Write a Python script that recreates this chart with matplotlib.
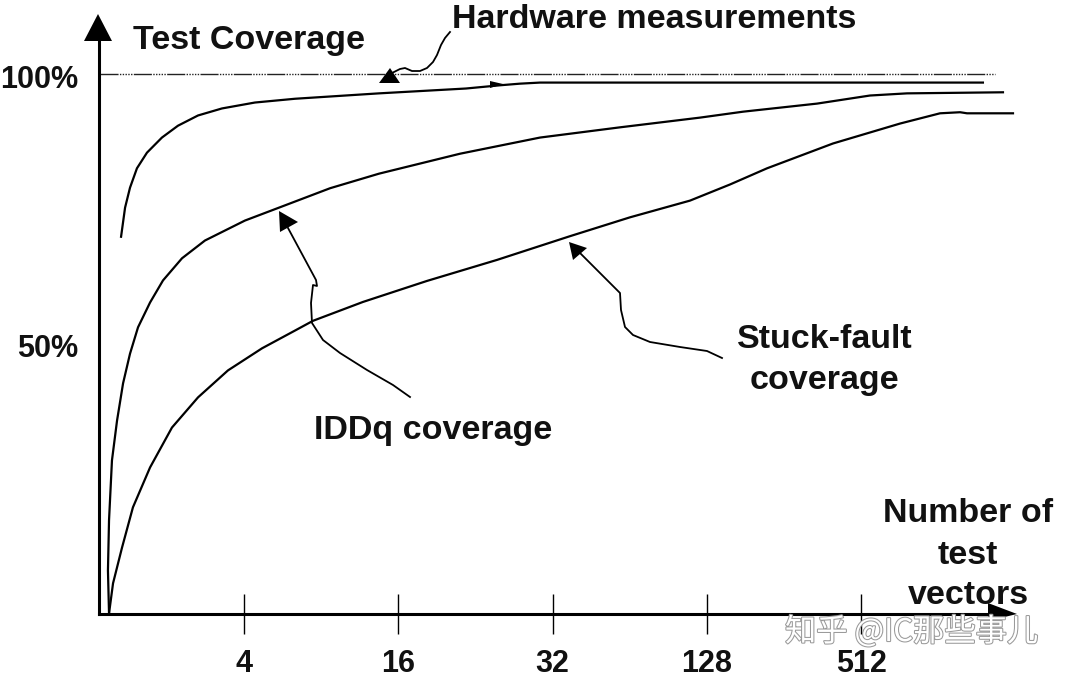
import matplotlib
matplotlib.use("Agg")
import matplotlib.pyplot as plt
import matplotlib.patheffects as pe
from matplotlib.transforms import Affine2D, ScaledTranslation
from matplotlib.patches import Polygon

plt.rcParams['font.family'] = ['Liberation Sans', 'DejaVu Sans']

W, H = 1071, 678

##
# Data, x is the position of the tick (evenly spaced vector counts), y is percent
tick_labels = ['4', '16', '32', '128', '512']
tick_pos = [0, 1, 2, 3, 4]

hw_x = [-0.797, -0.771, -0.739, -0.694, -0.629, -0.532, -0.428, -0.298, -0.143, 0.071, 0.331,
        0.875, 1.439, 1.66, 1.789, 1.919, 4.79]
hw_y = [69.9, 75.3, 79.0, 82.6, 85.5, 88.3, 90.5, 92.4, 93.7, 94.8, 95.5,
        96.5, 97.4, 98.0, 98.3, 98.5, 98.5]

iddq_x = [-0.875, -0.882, -0.875, -0.856, -0.823, -0.784, -0.739, -0.687, -0.609, -0.525, -0.402,
          -0.253, 0.006, 0.227, 0.558, 0.875, 1.40, 1.919, 2.438, 2.956, 3.235, 3.715, 4.058, 4.298, 4.92]
iddq_y = [0, 8.0, 17.3, 28.4, 35.8, 42.7, 48.2, 53.1, 57.7, 61.8, 65.9,
          69.2, 72.9, 75.3, 78.9, 81.6, 85.3, 88.3, 90.2, 92.0, 93.1, 94.6, 96.1, 96.5, 96.7]

stuck_x = [-0.875, -0.849, -0.791, -0.72, -0.609, -0.467, -0.298, -0.104, 0.117, 0.331, 0.447, 0.771,
           1.186, 1.64, 2.113, 2.502, 2.891, 3.151, 3.391, 3.818, 4.253, 4.512, 4.642, 4.687, 4.985]
stuck_y = [0, 5.6, 12.2, 19.7, 27.1, 34.5, 40.1, 45.1, 49.2, 52.5, 54.3, 57.8,
           61.7, 65.6, 70.0, 73.5, 76.6, 79.6, 82.6, 87.2, 90.9, 92.8, 93.0, 92.8, 92.8]

##
# Axes
fig = plt.figure(figsize=(W / 100, H / 100), dpi=100)
ax = fig.add_axes([99 / W, (H - 613.5) / H, 889 / W, 573.5 / H])
ax.set_xlim(-0.94, 4.823)
ax.set_ylim(0, 106.4)

for s in ['top', 'right']:
    ax.spines[s].set_visible(False)
for s in ['left', 'bottom']:
    ax.spines[s].set_linewidth(2.2)

ax.set_xticks(tick_pos)
ax.set_xticklabels(tick_labels, fontsize=22, fontweight='bold', color='#111111')
ax.tick_params(axis='x', direction='inout', length=29.5, width=1.0, pad=11)
ax.set_yticks([50, 100])
ax.set_yticklabels(['50%', '100%'], fontsize=22, fontweight='bold', color='#111111')
ax.tick_params(axis='y', length=0, pad=15)
for lab in ax.get_yticklabels():
    lab.set_transform(lab.get_transform() + ScaledTranslation(0, -2 / 100, fig.dpi_scale_trans))

ax.plot([-0.934, 4.87], [100, 100], color='#222222', lw=1.0, clip_on=False,
        linestyle=(0, (13, 1, 1, 1, 1, 1, 1, 1, 1, 1, 1, 1)))

for xs, ys in [(hw_x, hw_y), (iddq_x, iddq_y), (stuck_x, stuck_y)]:
    ax.plot(xs, ys, color='black', lw=1.6, clip_on=False, solid_joinstyle='round')

##
# Decorations, in image pixels
px = Affine2D().scale(1, -1).translate(0, H)

def triangle(points):
    fig.add_artist(Polygon(points, closed=True, color='black', lw=0, transform=px))

def leader(points, lw=1.3):
    xs = [p[0] for p in points]
    ys = [p[1] for p in points]
    fig.add_artist(plt.Line2D(xs, ys, color='black', lw=lw, transform=px, solid_joinstyle='round'))

def label(x, y, s, size=24.5, ha='left'):
    fig.text(x, y + 3, s, transform=px, fontsize=size, fontweight='bold', ha=ha, va='center', color='#111111')

triangle([(84, 41), (112, 41), (98, 14)])
triangle([(988, 603), (988, 621), (1017, 614)])
triangle([(379, 83), (400, 83), (390, 68)])
triangle([(490, 81), (490, 88), (503, 84)])
triangle([(279, 211), (280, 232), (298, 222)])
triangle([(569, 242), (573, 260), (587, 248)])

leader([(450, 32), (445, 38), (441, 45), (437, 55), (433, 62), (427, 68), (420, 71), (412, 71),
        (405, 68), (400, 69), (392, 73)])
leader([(288, 228), (316, 280), (317, 286), (313, 285), (311, 303), (312, 323), (323, 340),
        (340, 353), (367, 370), (393, 385), (410, 397)])
leader([(580, 253), (620, 293), (621, 310), (625, 327), (633, 335), (650, 342), (680, 347),
        (707, 351), (722, 358)])

label(133, 38, 'Test Coverage')
label(452, 17, 'Hardware measurements')
label(737, 336, 'Stuck-fault')
label(750, 378, 'coverage')
label(314, 428, 'IDDq coverage')
label(968, 511, 'Number of', ha='center')
label(968, 552, 'test', ha='center')
label(968, 592, 'vectors', ha='center')

# watermark
fig.text(785, 632, '知乎 @IC那些事儿', transform=px, fontsize=22.5, va='center', color='white',
         family=['Noto Sans CJK SC', 'DejaVu Sans'],
         path_effects=[pe.withStroke(linewidth=1.5, foreground='#9a9a9a')])

fig.savefig('out.png', dpi=100)
